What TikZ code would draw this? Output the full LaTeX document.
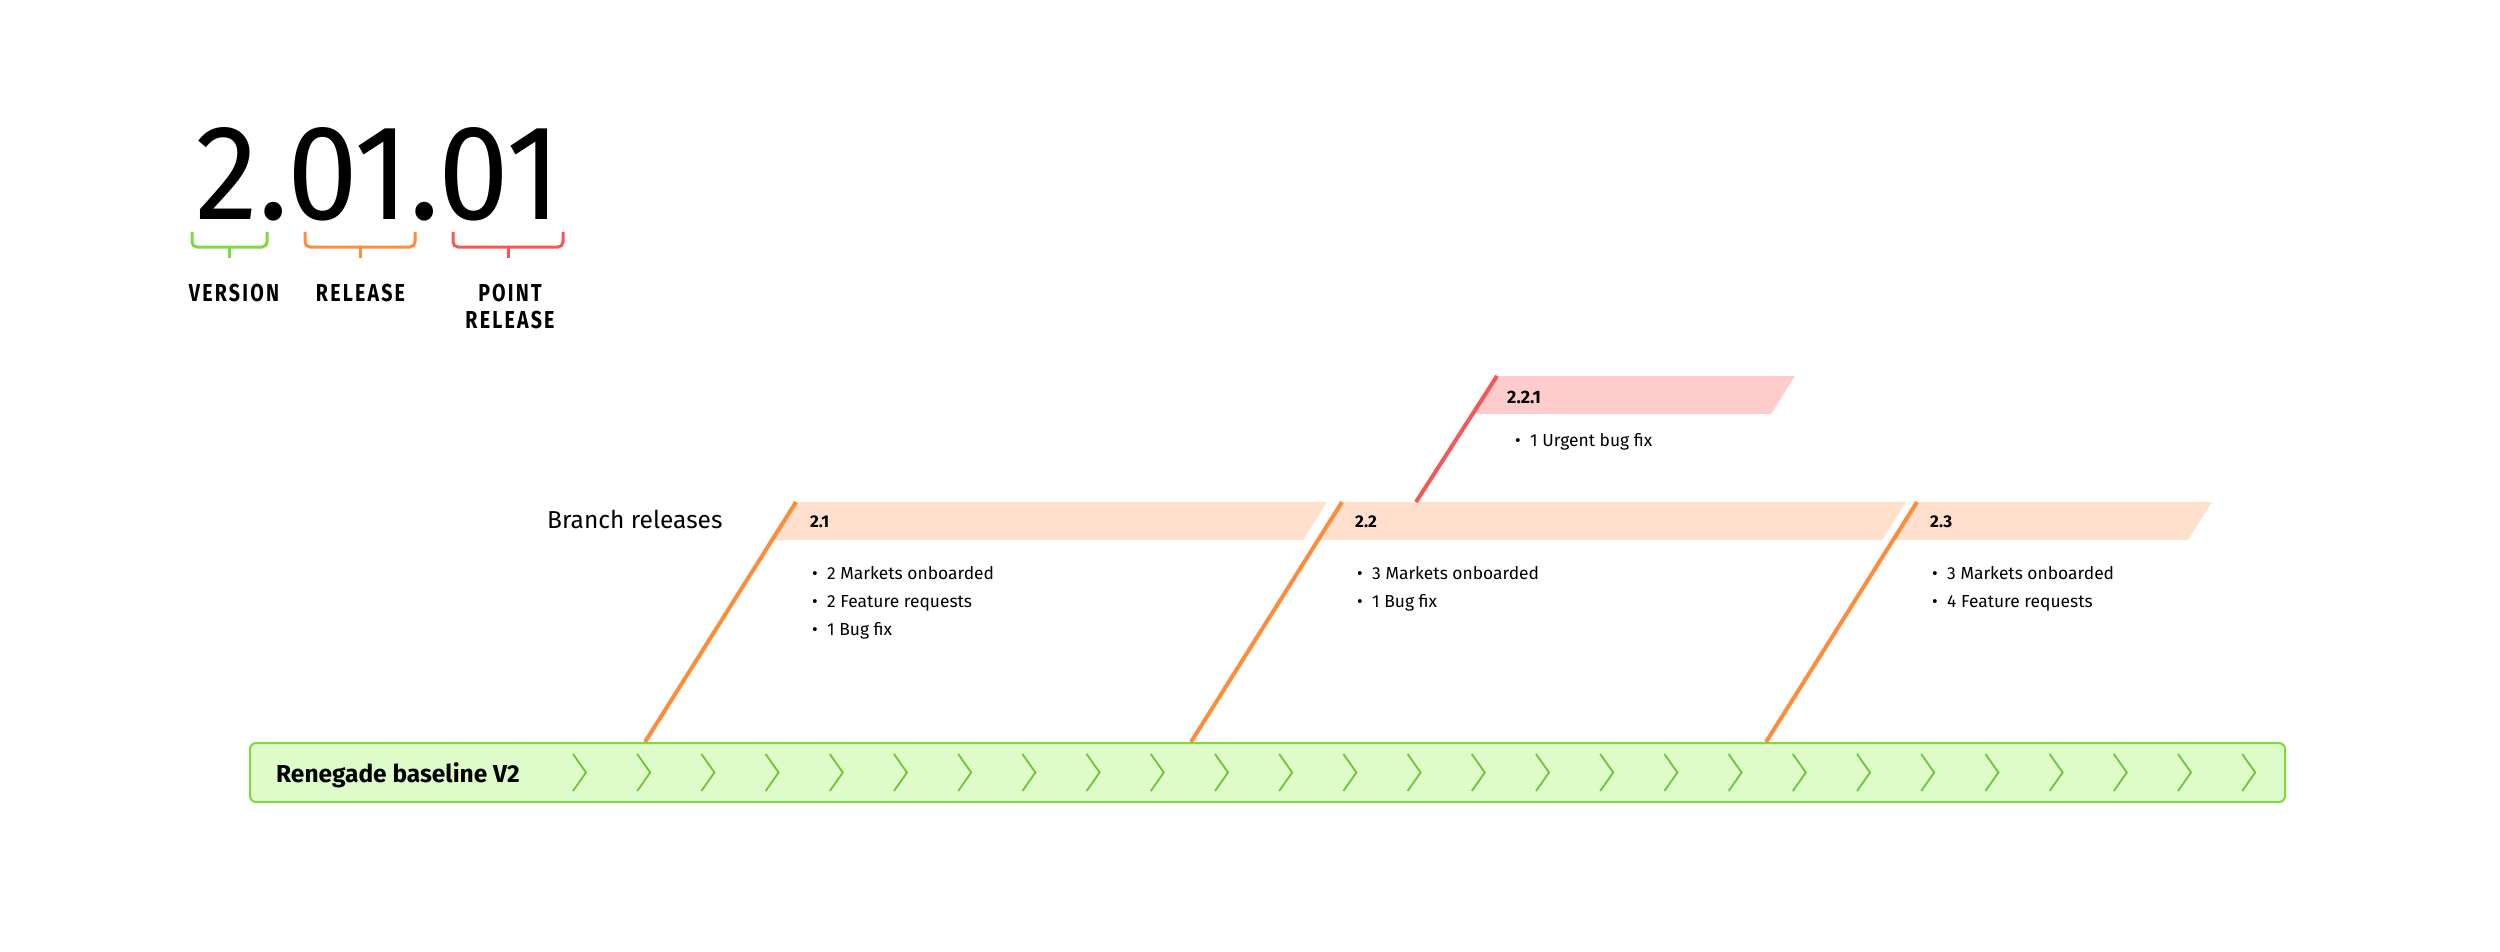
\documentclass[tikz,border=0pt]{standalone}
\usepackage{graphicx}
\usepackage{fontspec}
\setmainfont{Fira Sans}
\newfontfamily\tagfont{Fira Sans}[FakeStretch=0.8,LetterSpace=9]
\usetikzlibrary{positioning,calc}

\definecolor{vgreen}{RGB}{125,218,62}
\definecolor{rorange}{RGB}{255,140,58}
\definecolor{pred}{RGB}{245,86,86}
\definecolor{peach}{RGB}{254,224,204}
\definecolor{pinkish}{RGB}{255,204,204}
\definecolor{lime}{RGB}{221,252,201}

\tikzset{
  brace/.style={line width=3pt,rounded corners=5pt},
  tag/.style={font=\tagfont\bfseries\fontsize{24.5}{27}\selectfont,align=center,inner sep=0},
  relline/.style={line width=4pt,rorange},
  hotline/.style={line width=4pt,pred},
  head/.style={anchor=base west,inner sep=0,font=\bfseries\fontsize{17}{20}\selectfont},
  items/.style={anchor=base west,inner sep=0,align=left,font=\fontsize{17.4}{28}\selectfont},
  chev/.style={line width=1.8pt,vgreen!90!black},
}
\newcommand{\itm}[1]{\makebox[15pt][l]{•}#1}

\begin{document}
\begin{tikzpicture}[x=1pt,y=-1pt]
\useasboundingbox (0,0) rectangle (2500,952);

% version number and its parts
\node[anchor=base west,inner sep=0] (num) at (195,220) {\resizebox{366pt}{92pt}{2.01.01}};
\draw[brace,vgreen] (192,232) -- (192,247) -- (267,247) -- (267,232);
\draw[brace,rorange] (305,232) -- (305,247) -- (415,247) -- (415,232);
\draw[brace,pred] (453,232) -- (453,247) -- (563,247) -- (563,232);
\draw[line width=3pt,vgreen] (229.5,247) -- (229.5,258);
\draw[line width=3pt,rorange] (360,247) -- (360,258);
\draw[line width=3pt,pred] (508,247) -- (508,258);
\node[tag] (ver) at (234,293) {VERSION};
\node[tag] (rel) at (360.5,293) {RELEASE};
\node[tag] (pnt) at (510,306.5) {POINT\\RELEASE};

% baseline
\node[draw=vgreen,fill=lime,line width=2pt,rounded corners=6pt,minimum width=2035pt,minimum height=59pt] (base) at (1267.5,772.5) {};
\node[anchor=base west,inner sep=0,font=\bfseries\fontsize{24.5}{28}\selectfont] (basename) at (276,782) {Renegade baseline V2};
\foreach \i in {0,...,26}
  \draw[chev] ({573+64.2*\i},754) -- ({586+64.2*\i},772.5) -- ({573+64.2*\i},791);

% branch releases
\node[anchor=base west,inner sep=0,font=\fontsize{24.5}{30}\selectfont] (branch) at (547,528) {Branch releases};

\coordinate (top1) at (796,502);  \coordinate (foot1) at (645,742);
\coordinate (top2) at (1342,502); \coordinate (foot2) at (1191,742);
\coordinate (top3) at (1917,502); \coordinate (foot3) at (1766,742);
\coordinate (top4) at (1497,376); \coordinate (foot4) at (1416,502);

\fill[peach] (top1) -- (1327,502) -- (1303,540) -- (772,540) -- cycle;
\fill[peach] (top2) -- (1906,502) -- (1882,540) -- (1318,540) -- cycle;
\fill[peach] (top3) -- (2212,502) -- (2188,540) -- (1893,540) -- cycle;
\fill[pinkish] (top4) -- (1795,376) -- (1771,414) -- (1472,414) -- cycle;

\draw[relline] (foot1) -- (top1);
\draw[relline] (foot2) -- (top2);
\draw[relline] (foot3) -- (top3);
\draw[hotline] (foot4) -- (top4);

\node[head] (h1) at (810,527) {2.1};
\node[head] (h2) at (1355,527) {2.2};
\node[head] (h3) at (1930,527) {2.3};
\node[head,font=\bfseries\fontsize{18}{20}\selectfont] (h4) at (1507,403) {2.2.1};

% lists: base anchor sits on the last line
\node[items] (l1) at (812,635) {\itm{2 Markets onboarded}\\\itm{2 Feature requests}\\\itm{1 Bug fix}};
\node[items] (l2) at (1357,607) {\itm{3 Markets onboarded}\\\itm{1 Bug fix}};
\node[items] (l3) at (1932,607) {\itm{3 Markets onboarded}\\\itm{4 Feature requests}};
\node[items] (l4) at (1515,446) {\itm{1 Urgent bug fix}};
\end{tikzpicture}
\end{document}
